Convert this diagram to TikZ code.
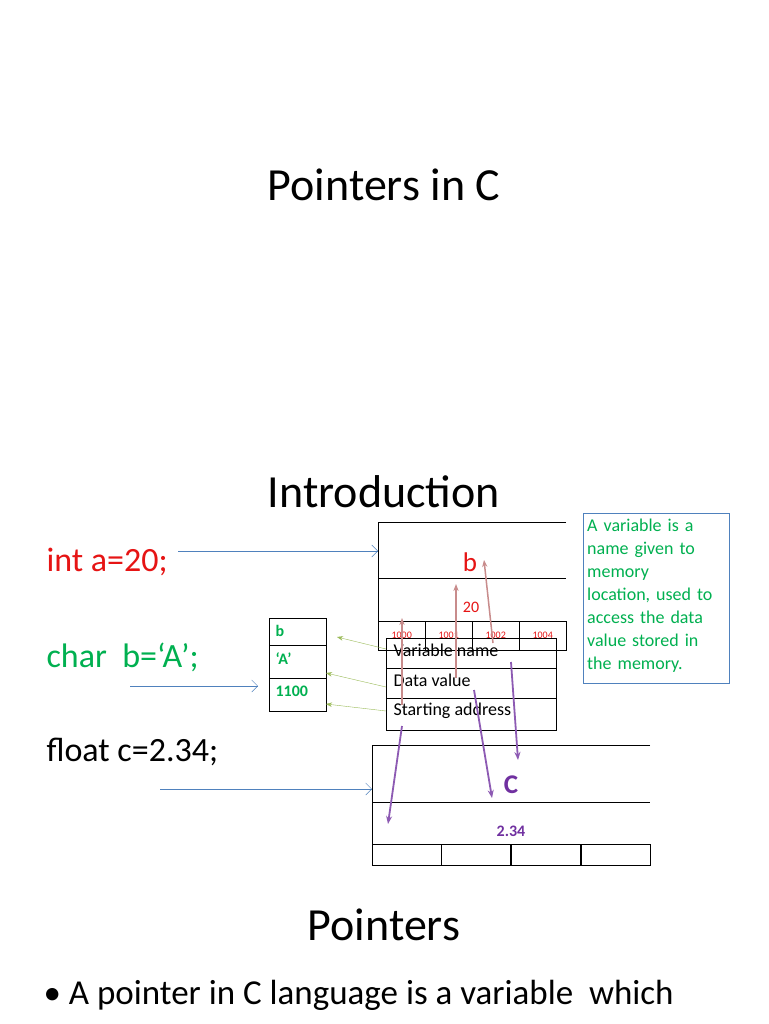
\documentclass[tikz,border=0pt]{standalone}
\usepackage{fontspec}
\setmainfont{Carlito}
\usetikzlibrary{arrows.meta, positioning}
\definecolor{cred}{RGB}{230,20,20}
\definecolor{cgreen}{RGB}{0,176,80}
\definecolor{cblue}{RGB}{79,129,189}
\definecolor{cpink}{RGB}{200,140,140}
\definecolor{cpurple}{RGB}{112,48,160}
\definecolor{colive}{RGB}{155,187,89}
\tikzset{
  title/.style={font=\fontsize{46}{52}\selectfont},
  code/.style={anchor=west, font=\fontsize{34}{40}\selectfont},
  cell/.style={draw, minimum height=29pt, inner sep=0pt},
  addr/.style={text=cred, font=\fontsize{10}{11}\selectfont},
  row/.style={anchor=west, font=\fontsize{18}{20}\selectfont},
  val/.style={anchor=west, text=cgreen, font=\bfseries\fontsize{16}{18}\selectfont},
  blue arrow/.style={cblue, -{Straight Barb[length=6pt]}},
  olive arrow/.style={colive, -{Stealth[length=6pt]}},
  pink arrow/.style={cpink, line width=1.5pt, -{Stealth[length=7pt]}},
  purple arrow/.style={cpurple!80, line width=1.8pt, -{Stealth[length=8pt]}}
}
\begin{document}
\begin{tikzpicture}[x=1pt, y=-1pt]
  \useasboundingbox[fill=white] (0,0) rectangle (768,1024);
  % titles
  \node[title] (t1) at (384,185) {Pointers in C};
  \node[title] (t2) at (384,492) {Introduction};
  \node[title] (t3) at (384,925) {Pointers};
  % code lines
  \node[code, text=cred] (ca) at (43,562) {int a=20;};
  \node[code, text=cgreen] (cb) at (43,657) {char\ \ b=‘A’;};
  \node[code] (cc) at (43,752) {float c=2.34;};
  \node[code, font=\fontsize{35}{40}\selectfont] (bul) at (40,995) {\textbullet\ A pointer in C language is a variable\ \ which};
  % top memory block
  \draw (566,522) -- (378,522) -- (378,650) (378,578) -- (566,578);
  \foreach \x/\l [count=\i] in {378/1000,425/1001,472/1002,519/1004}
    \node[cell, minimum width=47pt, anchor=north west, addr] (ma\i) at (\x,621) {\raisebox{-6pt}{\l}};
  \node[text=cred, font=\fontsize{27}{30}\selectfont] (vb) at (470,562) {b};
  \node[text=cred, font=\fontsize{16}{18}\selectfont] (v20) at (471,607) {20};
  % left box
  \draw (269,618) rectangle (326,711) (269,645) -- (326,645) (269,678) -- (326,678);
  \node[val] (lb) at (272,631) {b};
  \node[val] (la) at (272,659) {‘A’};
  \node[val] (ln) at (272,691) {1100};
  % middle table
  \draw (386,638) rectangle (556,730) (386,668) -- (556,668) (386,698) -- (556,698);
  \node[row] (rn) at (390,650) {Variable name};
  \node[row] (rd) at (390,680) {Data value};
  \node[row] (rs) at (390,711) {Starting address};
  % bottom memory block
  \draw (650,745) -- (372,745) -- (372,865) (372,802) -- (650,802);
  \foreach \x [count=\i] in {372,441,511,581}
    \draw (\x,844) rectangle +(69,21);
  \node[text=cpurple, font=\bfseries\fontsize{27}{30}\selectfont] (vc) at (511,785) {C};
  \node[text=cpurple, font=\bfseries\fontsize{16}{18}\selectfont] (v234) at (511,831) {2.34};
  % note
  \node[draw=cblue, anchor=north west, minimum width=146pt, minimum height=170pt,
        text width=138pt, align=left, text=cgreen, inner sep=4pt,
        font=\fontsize{18}{23}\selectfont] (note) at (583,513)
        {A variable is a\\name given to\\memory\\location, used to\\access the data\\value stored in\\the memory.\par\vspace{6pt}};
  % coordinates for arrows
  \coordinate (pa) at (178,551);  \coordinate (qa) at (378,551);
  \coordinate (pb) at (130,686);  \coordinate (qb) at (258,686);
  \coordinate (pc) at (160,789);  \coordinate (qc) at (372,789);
  \draw[blue arrow] (pa) -- (qa);
  \draw[blue arrow] (pb) -- (qb);
  \draw[blue arrow] (pc) -- (qc);
  \draw[olive arrow] (386,649) -- (337,637);
  \draw[olive arrow] (386,687) -- (326,673);
  \draw[olive arrow] (386,711) -- (326,704);
  \draw[pink arrow] (402,705) -- (402,618);
  \draw[pink arrow] (456,678) -- (456,584);
  \draw[pink arrow] (493,643) -- (484,560);
  \draw[purple arrow] (402,726) -- (388,824);
  \draw[purple arrow] (474,690) -- (492,798);
  \draw[purple arrow] (511,662) -- (518,760);
\end{tikzpicture}
\end{document}
